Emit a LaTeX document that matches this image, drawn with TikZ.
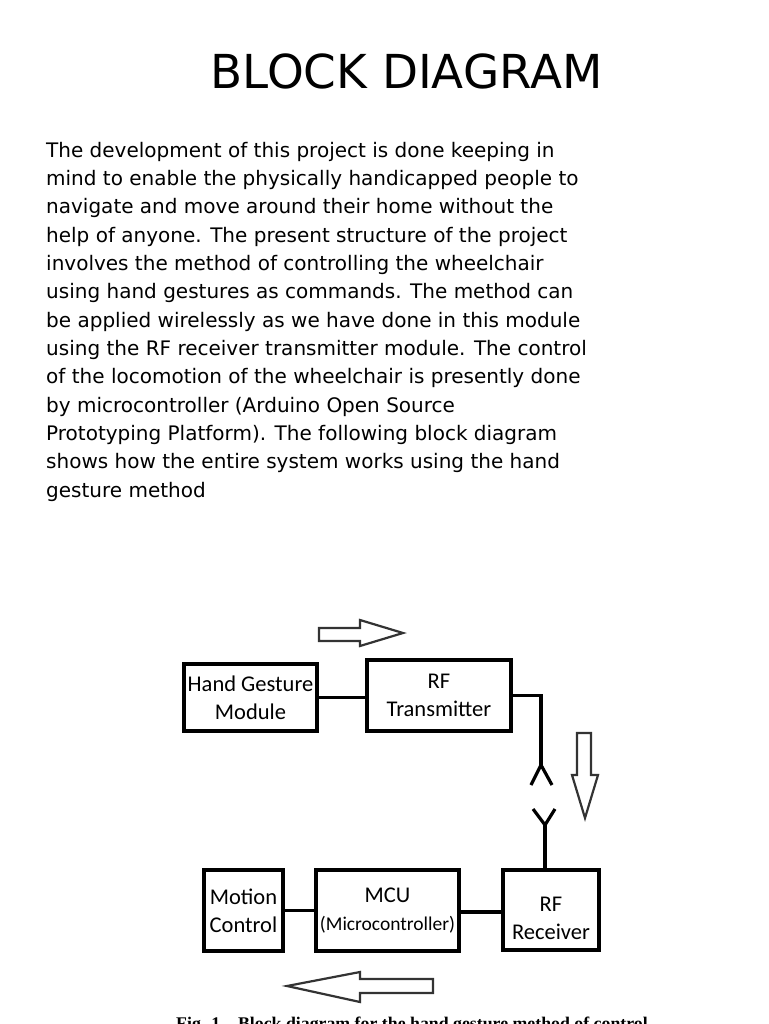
\documentclass[tikz,border=0pt]{standalone}
\usepackage{fontspec}
\setmainfont{DejaVu Sans}
\newfontfamily\diagfont{Carlito}
\newfontfamily\capfont{Liberation Serif}
\usepackage{tikz}
\usetikzlibrary{calc}

\tikzset{
  blk/.style={draw, line width=3.6pt, inner sep=0pt, align=center,
    font=\diagfont\fontsize{22.5}{28}\selectfont},
  wire/.style={line width=3.2pt},
  hollow/.style={draw=black!80, line width=2.2pt, line join=miter},
}

\begin{document}
\begin{tikzpicture}[x=1pt,y=-1pt]
        \useasboundingbox (0,0) rectangle (768,1024);
        \clip (0,0) rectangle (768,1024);
        \node[font=\fontsize{46.8}{50}\selectfont, anchor=base] (title) at (406.5,89) {BLOCK DIAGRAM};
        % base of the last line
        \node[font=\fontsize{20}{28.33}\selectfont, align=left, anchor=base west, inner sep=0pt] (body) at (46,497)
          {The development of this project is done keeping in\\
           mind to enable the physically handicapped people to\\
           navigate and move around their home without the\\
           help of anyone. The present structure of the project\\
           involves the method of controlling the wheelchair\\
           using hand gestures as commands. The method can\\
           be applied wirelessly as we have done in this module\\
           using the RF receiver transmitter module. The control\\
           of the locomotion of the wheelchair is presently done\\
           by microcontroller (Arduino Open Source\\
           Prototyping Platform). The following block diagram\\
           shows how the entire system works using the hand\\
           gesture method};
        % blocks
        \node[blk, minimum width=133, minimum height=67] (hgm) at (250.5,697.5) {Hand Gesture\\Module};
        \node[blk, minimum width=144, minimum height=71] (rftx) at (439,695.5) {RF\\Transmitter};
        \node[blk, minimum width=79, minimum height=81] (mot) at (243.5,910.5) {Motion\\Control};
        \node[blk, minimum width=143, minimum height=81] (mcu) at (387.5,910.5)
          {MCU\\{\fontsize{19.5}{28}\selectfont(Microcontroller)}};
        \node[blk, minimum width=96, minimum height=80, text height=59] (rfrx) at (551,910) {RF\\Receiver};
        \coordinate (txant) at (541,765);
        \coordinate (rxant) at (545,825);
        \draw[wire] (hgm.east) -- (hgm.east -| rftx.west)
              (rftx.east) -| (txant)
              (mot.east) -- (mot.east -| mcu.west)
              (mcu.east) ++(0,1.5) -- ($(mcu.east -| rfrx.west)+(0,1.5)$)
              (rxant) -- (rxant |- rfrx.north);
        % antennas
        \draw[wire, line join=miter] (531,785) -- (txant) -- (552,785);
        \draw[wire, line join=miter] (533,809) -- (rxant) -- (555,809);
        % hollow arrows
        \draw[hollow] (319,628) -- (360,628) -- (360,620) -- (403,633) -- (360,646)
              -- (360,641) -- (319,641) -- cycle;
        \draw[hollow] (577,733) -- (591,733) -- (591,775) -- (598,775) -- (585,818)
              -- (572,775) -- (577,775) -- cycle;
        \draw[hollow] (433,979) -- (360,979) -- (360,972) -- (287,986) -- (360,1002)
              -- (360,993) -- (433,993) -- cycle;
        \node[font=\capfont\bfseries\fontsize{17.8}{20}\selectfont, anchor=base] (cap) at (412,1029)
          {Fig. 1 – Block diagram for the hand gesture method of control};
      \end{tikzpicture}
\end{document}
